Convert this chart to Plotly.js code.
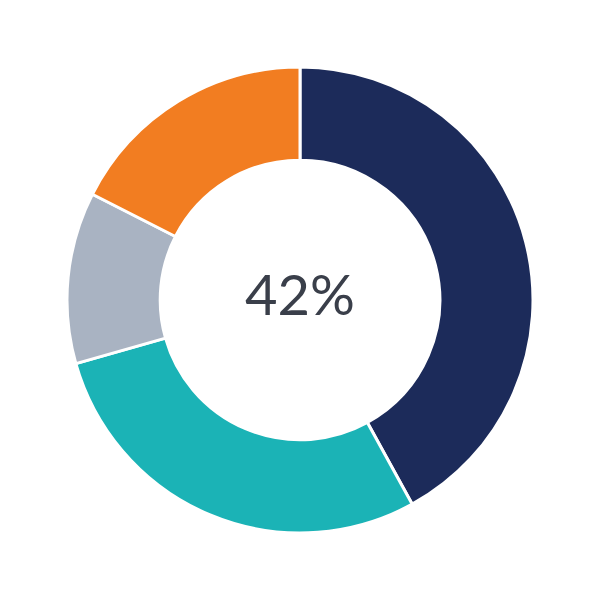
<!DOCTYPE html>
<html>
<head>
<meta charset="utf-8">
<script src="https://cdn.plot.ly/plotly-3.0.1.min.js"></script>
<style>
  html, body { margin: 0; padding: 0; background: #ffffff; }
  #chart { width: 600px; height: 600px; }
</style>
</head>
<body>
<div id="chart"></div>
<script>
// slice data, clockwise from 12 o'clock
const sliceLabels = ['Navy', 'Teal', 'Gray', 'Orange'];
const sliceValues = [42, 28.6, 11.9, 17.5];
const sliceColors = ['#1c2b5a', '#1bb3b6', '#a9b3c2', '#f27d21'];
const centerText = '42%';

const trace = {
    type: 'pie',
    labels: sliceLabels,
    values: sliceValues,
    sort: false,
    direction: 'clockwise',
    rotation: 0,
    hole: 0.6,
    textinfo: 'none',
    hoverinfo: 'label+percent',
    marker: {
        colors: sliceColors,
        line: { color: '#ffffff', width: 3 }
    }
};

const layout = {
    width: 600,
    height: 600,
    showlegend: false,
    margin: { t: 67, b: 67, l: 67, r: 67 },
    paper_bgcolor: '#ffffff',
    annotations: [{
        text: centerText,
        x: 0.5, y: 0.5,
        xref: 'paper', yref: 'paper',
        yshift: 7,
        showarrow: false,
        font: { family: 'Lato, sans-serif', size: 56, color: '#3a3f4a' }
    }]
};

Plotly.newPlot('chart', [trace], layout, { displayModeBar: false, staticPlot: true });
</script>
</body>
</html>
